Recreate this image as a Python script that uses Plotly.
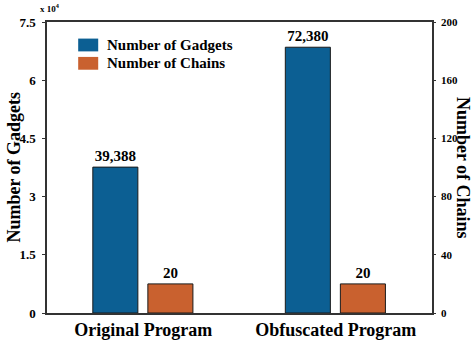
import plotly.graph_objects as go

categories = ["Original Program", "Obfuscated Program"]
# Gadget bar heights as drawn against the left axis, and the labels printed above them
gadget_heights = [37600, 68500]
gadget_labels = ["39,388", "72,380"]
chains = [20, 20]
chain_labels = ["20", "20"]

left_ticks = [0, 15000, 30000, 45000, 60000, 75000]
left_ticktext = ["0", "1.5", "3", "4.5", "6", "7.5"]
right_ticks = [0, 40, 80, 120, 160, 200]

BLUE = "#0c5f93"
ORANGE = "#c9612f"
FONT = "Times New Roman, Liberation Serif, serif"

fig = go.Figure()
fig.add_trace(go.Bar(
    x=categories, y=gadget_heights, name="Number of Gadgets",
    marker=dict(color=BLUE, line=dict(color="#1a1a1a", width=1)),
    width=0.234, offset=-0.262,
    text=gadget_labels, textposition="outside", cliponaxis=False,
    textfont=dict(family=FONT, size=15, color="black", weight="bold"),
    yaxis="y", showlegend=False,
))
fig.add_trace(go.Bar(
    x=categories, y=chains, name="Number of Chains",
    marker=dict(color=ORANGE, line=dict(color="#1a1a1a", width=1)),
    width=0.234, offset=0.024,
    text=chain_labels, textposition="outside", cliponaxis=False,
    textfont=dict(family=FONT, size=15, color="black", weight="bold"),
    yaxis="y2", showlegend=False,
))

axis_line = dict(showline=True, linecolor="#333333", linewidth=1.5)

fig.update_layout(
    width=474, height=352,
    margin=dict(l=47, r=42, t=22, b=27),
    plot_bgcolor="white", paper_bgcolor="white",
    barmode="overlay",
    font=dict(family=FONT, color="black"),
    xaxis=dict(
        **axis_line, mirror=True, showgrid=False, ticks="",
        range=[-0.5, 1.5],
        tickfont=dict(family=FONT, size=18, weight="bold"),
    ),
    yaxis=dict(
        **axis_line, showgrid=False, zeroline=False,
        range=[0, 75000], tickvals=left_ticks, ticktext=left_ticktext,
        ticks="outside", ticklen=3, tickcolor="#333333",
        tickfont=dict(family=FONT, size=13, weight="bold"),
        ticklabelstandoff=4,
    ),
    yaxis2=dict(
        **axis_line, overlaying="y", side="right", showgrid=False, zeroline=False,
        range=[0, 200], tickvals=right_ticks,
        ticks="outside", ticklen=2, tickcolor="#333333",
        tickfont=dict(family=FONT, size=11, weight="bold"),
        ticklabelstandoff=3,
    ),
)

# Custom legend
legend_items = [("Number of Gadgets", BLUE, 0.921), ("Number of Chains", ORANGE, 0.858)]
for label, color, yc in legend_items:
    fig.add_shape(type="rect", xref="paper", yref="paper",
                  x0=0.081, x1=0.133, y0=yc - 0.022, y1=yc + 0.022,
                  fillcolor=color, line=dict(color=color, width=0))
    fig.add_annotation(text=label, xref="paper", yref="paper", x=0.150, y=yc,
                       xanchor="left", yanchor="middle", showarrow=False,
                       font=dict(family=FONT, size=15, weight="bold", color="black"))

# Axis titles
fig.add_annotation(text="Number of Gadgets", xref="paper", yref="paper",
                   x=-0.088, y=0.5, xanchor="center", yanchor="middle",
                   textangle=-90, showarrow=False,
                   font=dict(family=FONT, size=18, weight="bold", color="black"))
fig.add_annotation(text="Number of Chains", xref="paper", yref="paper",
                   x=1.082, y=0.5, xanchor="center", yanchor="middle",
                   textangle=90, showarrow=False,
                   font=dict(family=FONT, size=18, weight="bold", color="black"))
fig.add_annotation(text="x 10<sup>4</sup>", xref="paper", yref="paper",
                   x=0.008, y=1.02, xanchor="center", yanchor="bottom",
                   showarrow=False,
                   font=dict(family=FONT, size=9, weight="bold", color="black"))

fig.write_html("out.html")
